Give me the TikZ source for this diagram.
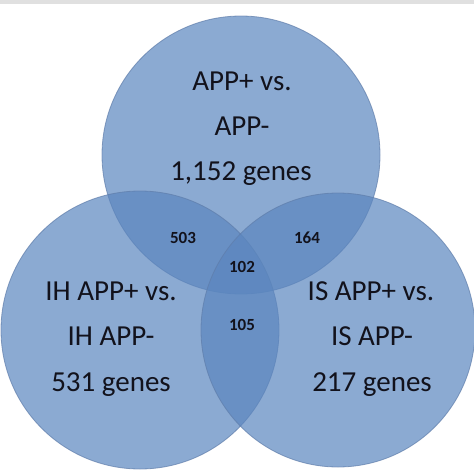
\documentclass[tikz,border=0pt]{standalone}
\usepackage{fontspec}
\setmainfont{Carlito}
\definecolor{vennfill}{RGB}{91,134,191}
\definecolor{vennedge}{RGB}{95,125,170}
\definecolor{txt}{RGB}{18,18,28}
\tikzset{
  venn/.style={circle, inner sep=0pt, minimum size=#1, fill=vennfill, fill opacity=0.7, draw=vennedge, draw opacity=0.7, line width=0.8pt},
  bigtxt/.style={anchor=base, text=txt, font=\fontsize{29}{35}\selectfont, inner sep=0pt},
  numtxt/.style={anchor=base, text=txt, font=\fontsize{17}{20}\selectfont\bfseries, inner sep=0pt}
}
\begin{document}
\begin{tikzpicture}[x=1pt,y=-1pt]
\useasboundingbox (0,0) rectangle (474,474);
\fill[white] (0,0) rectangle (474,474);
\fill[black!12] (0,0) rectangle (474,4);
\node[venn=278pt] (top) at (241,155) {};
\node[venn=278pt] (left) at (140,330) {};
\node[venn=274pt] (right) at (338,330) {};
% top circle text
\node[bigtxt] (t1) at (242,90) {APP+ vs.};
\node[bigtxt] (t2) at (242,135) {APP-};
\node[bigtxt] (t3) at (241,180) {1,152 genes};
% left circle text
\node[bigtxt] (l1) at (111,300) {IH APP+ vs.};
\node[bigtxt] (l2) at (111,345) {IH APP-};
\node[bigtxt] (l3) at (111,391) {531 genes};
% right circle text
\node[bigtxt] (r1) at (371,300) {IS APP+ vs.};
\node[bigtxt] (r2) at (372,345) {IS APP-};
\node[bigtxt] (r3) at (372,391) {217 genes};
% overlap numbers
\node[numtxt] (n503) at (183,243) {503};
\node[numtxt] (n164) at (307,243) {164};
\node[numtxt] (n102) at (242,272) {102};
\node[numtxt] (n105) at (242,330) {105};
\end{tikzpicture}
\end{document}
